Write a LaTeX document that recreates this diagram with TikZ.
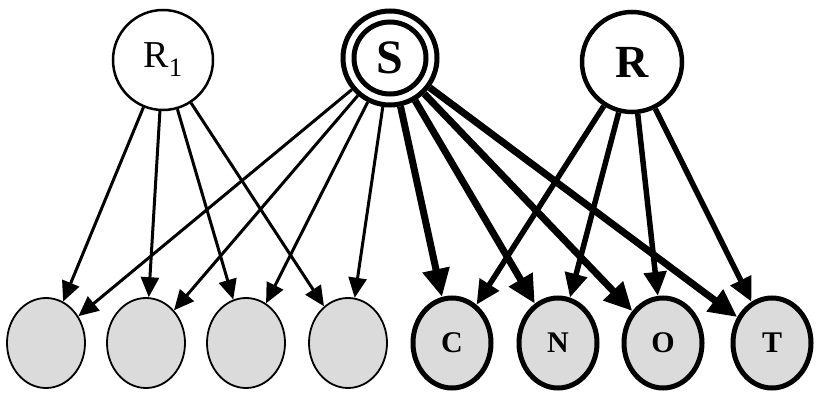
\documentclass[tikz,border=0pt]{standalone}
\usepackage{fontspec}
\setmainfont{Liberation Serif}
\usetikzlibrary{arrows.meta,shapes.geometric}
\begin{document}
\begin{tikzpicture}[x=1pt,y=-1pt,
  top/.style={circle,draw,line width=2.5pt,minimum size=100pt,inner sep=0pt},
  bot/.style={ellipse,draw,fill=gray!28,minimum width=78pt,minimum height=90pt,inner sep=0pt,line width=1.8pt,font=\bfseries\fontsize{30}{32}\selectfont},
  botk/.style={bot,line width=5pt},
  thin/.style={line width=3pt,-{Triangle[length=20pt,width=18pt]}},
  thickS/.style={line width=7pt,-{Triangle[length=28pt,width=26pt]}},
  thickR/.style={line width=5.5pt,-{Triangle[length=24pt,width=22pt]}}]
\useasboundingbox (0,0) rectangle (835,401);
\node[top,font=\fontsize{38}{40}\selectfont] (r1) at (163,60) {R\textsubscript{1}};
\node[top,line width=5pt,minimum size=94pt,font=\bfseries\fontsize{48}{50}\selectfont] (s) at (390,58) {S};
\node[circle,draw,line width=5pt,minimum size=72pt] at (390,58) {};
\node[top,line width=4.5pt,font=\bfseries\fontsize{46}{48}\selectfont] (r) at (632,62) {R};
\node[bot] (b1) at (46,343) {};
\node[bot] (b2) at (146,343) {};
\node[bot] (b3) at (246,343) {};
\node[bot] (b4) at (348,343) {};
\node[botk] (c) at (452,343) {C};
\node[botk] (n) at (558,343) {N};
\node[botk] (o) at (663,343) {O};
\node[botk] (t) at (772,343) {T};
\foreach \b in {b1,b2,b3,b4} \draw[thin] (r1) -- (\b);
\foreach \b in {b1,b2,b3,b4} \draw[thin] (s) -- (\b);
\foreach \b in {c,n,o,t} \draw[thickS] (s) -- (\b);
\foreach \b in {c,n,o,t} \draw[thickR] (r) -- (\b);
\end{tikzpicture}
\end{document}
